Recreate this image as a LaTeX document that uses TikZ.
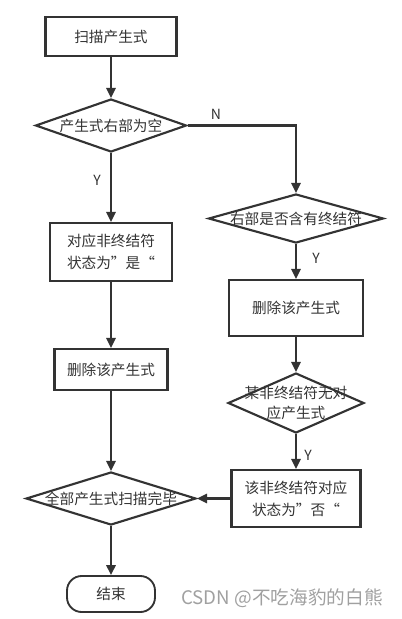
\documentclass[tikz,border=0pt]{standalone}
\usepackage{fontspec}
\setmainfont{Noto Sans CJK SC}
\usetikzlibrary{shapes.geometric,arrows.meta}
\definecolor{ink}{HTML}{333333}
\definecolor{mark}{HTML}{A0A0A0}
\begin{document}
\begin{tikzpicture}[x=0.75pt,y=-0.75pt,
  every node/.style={font=\fontsize{11pt}{16.5pt}\selectfont, text=ink},
  proc/.style={draw=ink, line width=1.6pt, rectangle, inner sep=0pt, align=center},
  dec/.style={draw=ink, line width=1.6pt, diamond, inner sep=0pt},
  term/.style={draw=ink, line width=1.4pt, rectangle, rounded corners=11pt, inner sep=0pt},
  conn/.style={draw=ink, line width=1.6pt, -{Triangle[length=7.5pt,width=7pt]}},
  lbl/.style={font=\fontsize{10.5pt}{12pt}\selectfont}
]
\useasboundingbox (0,0) rectangle (402,619);

\node[proc, minimum width=98.25pt, minimum height=29.25pt] (b1) at (111,36.5) {扫描产生式};
\node[dec, minimum width=113.25pt, minimum height=39.75pt,
      label={[inner sep=0pt,text=ink]center:产生式右部为空}] (d1) at (111,125.5) {};
\node[proc, minimum width=91.5pt, minimum height=43.5pt] (b2) at (111,252) {对应非终结符\\状态为”是“};
\node[proc, minimum width=84.75pt, minimum height=30.75pt] (b3) at (111,369.5) {删除该产生式};
\node[dec, minimum width=127.5pt, minimum height=39.75pt,
      label={[inner sep=0pt,text=ink]center:全部产生式扫描完毕}] (d3) at (111,498.5) {};
\node[term, minimum width=66pt, minimum height=27pt] (end) at (111,594) {结束};

\node[dec, minimum width=131.25pt, minimum height=36.75pt,
      label={[inner sep=0pt,text=ink]center:右部是否含有终结符}] (d2) at (296,218.5) {};
\node[proc, minimum width=100.5pt, minimum height=42pt] (b4) at (296,308) {删除该产生式};
\node[dec, minimum width=102pt, minimum height=45pt,
      label={[inner sep=0pt,text=ink,align=center,font=\fontsize{11pt}{15pt}\selectfont]center:某非终结符无对\\应产生式}] (d4) at (296,403) {};
\node[proc, minimum width=96.75pt, minimum height=42.75pt] (b5) at (296,498.5) {该非终结符对应\\状态为”否“};

\coordinate (corner) at (296,125.5);

\draw[conn] (b1) -- (d1);
\draw[conn] (d1) -- (b2);
\draw[conn] (b2) -- (b3);
\draw[conn] (b3) -- (d3);
\draw[conn] (d3) -- (end);
\draw[conn] (d1.east) -- (corner) -- (d2.north);
\draw[conn] (d2) -- (b4);
\draw[conn] (b4) -- (d4);
\draw[conn] (d4) -- (b5);
\draw[conn] (b5) -- (d3);

\node[lbl] (ln) at (216,114) {N};
\node[lbl] (ly1) at (97,180) {Y};
\node[lbl] (ly2) at (316,258) {Y};
\node[lbl] (ly3) at (308,455) {Y};

\node[font=\fontsize{14pt}{16pt}\selectfont, text=mark] (wm) at (282,598) {CSDN @不吃海豹的白熊};
\end{tikzpicture}
\end{document}
